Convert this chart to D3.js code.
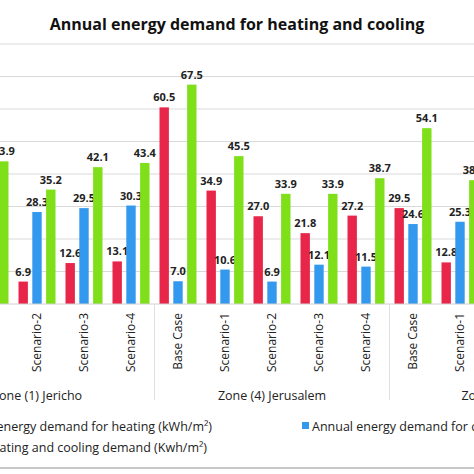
<!DOCTYPE html>
<html>
<head>
<meta charset="utf-8">
<script src="https://cdn.jsdelivr.net/npm/d3@7"></script>
<style>
  body { margin: 0; background: #fff; }
  text { font-family: "Open Sans", sans-serif; }
</style>
</head>
<body>
<svg id="chart" width="474" height="474"></svg>
<script>
// zones and scenarios (the original chart is cropped, some groups are off-screen)
const zones = ["Zone (1) Jericho", "Zone (4) Jerusalem", "Zone (3) Nablus"];
const scenarios = ["Base Case", "Scenario-1", "Scenario-2", "Scenario-3", "Scenario-4"];
const heating = [5.0, 6.0, 6.9, 12.6, 13.1, 60.5, 34.9, 27.0, 21.8, 27.2, 29.5, 12.8, 10.0, 9.0, 9.5];
const cooling = [40.0, 37.9, 28.3, 29.5, 30.3, 7.0, 10.6, 6.9, 12.1, 11.5, 24.6, 25.3, 22.0, 23.0, 22.5];
const total   = [45.0, 43.9, 35.2, 42.1, 43.4, 67.5, 45.5, 33.9, 33.9, 38.7, 54.1, 38.1, 32.0, 32.0, 32.0];
const yTicks = [0, 10, 20, 30, 40, 50, 60, 70, 80];

const svg = d3.select("#chart");
const W = 474, H = 474;
const margin = { top: 44, bottom: 170 };
const step = 47;
const first = -57 - step / 2;   // left edge of first group (off-screen)

const groups = d3.range(heating.length);
const x = d3.scaleBand().domain(groups).range([first, first + step * groups.length]).padding(0);
const y = d3.scaleLinear().domain([0, 80]).range([H - margin.bottom, margin.top]);
const inner = d3.scaleBand().domain(["h", "c", "t"]).range([5, step - 5]).paddingInner(0.32);

const colors = { h: "#e8264a", c: "#3399ee", t: "#7fe01a" };

svg.append("text").attr("x", W / 2).attr("y", 30).attr("text-anchor", "middle")
  .attr("font-size", 16).attr("font-weight", "bold").attr("fill", "#111")
  .text("Annual energy demand for heating and cooling");

svg.append("g").selectAll("line").data(yTicks.slice(1)).join("line")
  .attr("x1", 0).attr("x2", W).attr("y1", d => y(d)).attr("y2", d => y(d))
  .attr("stroke", "#d9d9d9").attr("stroke-width", 1);

const series = [["h", heating], ["c", cooling], ["t", total]];
const bars = svg.append("g");
series.forEach(([k, vals]) => {
  bars.selectAll(".b" + k).data(vals).join("rect")
    .attr("x", (d, i) => x(i) + inner(k)).attr("width", inner.bandwidth())
    .attr("y", d => y(d)).attr("height", d => y(0) - y(d))
    .attr("fill", colors[k]);
  bars.selectAll(".l" + k).data(vals).join("text")
    .attr("x", (d, i) => x(i) + inner(k) + inner.bandwidth() / 2)
    .attr("y", d => y(d) - 6).attr("text-anchor", "middle")
    .attr("font-size", 11).attr("font-weight", "bold").attr("fill", "#222")
    .text(d => d.toFixed(1));
});

svg.append("line").attr("x1", 0).attr("x2", W).attr("y1", y(0)).attr("y2", y(0))
  .attr("stroke", "#d0d0d0");

// scenario labels
svg.append("g").selectAll("text").data(groups).join("text")
  .attr("transform", i => `translate(${x(i) + step / 2 + 4},${y(0) + 9}) rotate(-90)`)
  .attr("text-anchor", "end").attr("font-size", 12).attr("fill", "#222")
  .text(i => scenarios[i % 5]);

// zone separators and labels
svg.append("g").selectAll("line").data(d3.range(zones.length + 1)).join("line")
  .attr("x1", z => x(0) + z * 5 * step).attr("x2", z => x(0) + z * 5 * step)
  .attr("y1", y(0)).attr("y2", y(0) + 96).attr("stroke", "#e0e0e0");
svg.append("g").selectAll("text").data(zones).join("text")
  .attr("x", (z, i) => x(0) + (i + 0.5) * 5 * step).attr("y", y(0) + 96)
  .attr("text-anchor", "middle").attr("font-size", 12.5).attr("fill", "#222")
  .text(z => z);

// legend
const legend = [
  { k: "h", text: "Annual energy demand for heating (kWh/m²)", x: 212, y: 431, anchor: "end" },
  { k: "c", text: "Annual energy demand for cooling (kWh/m²)", x: 312, y: 431, anchor: "start" },
  { k: "t", text: "Total heating and cooling demand (Kwh/m²)", x: 207, y: 452, anchor: "end" }
];
const lg = svg.append("g").selectAll("g").data(legend).join("g");
lg.append("text").attr("x", d => d.x).attr("y", d => d.y).attr("text-anchor", d => d.anchor)
  .attr("font-size", 12.5).attr("fill", "#222").text(d => d.text)
  .each(function (d) {
    const b = this.getBBox();
    d3.select(this.parentNode).append("rect").attr("x", b.x - 10).attr("y", d.y - 9)
      .attr("width", 7).attr("height", 7).attr("fill", colors[d.k]);
  });

svg.append("line").attr("x1", 0).attr("x2", W).attr("y1", 468).attr("y2", 468)
  .attr("stroke", "#c8c8c8").attr("stroke-width", 2);
</script>
</body>
</html>
